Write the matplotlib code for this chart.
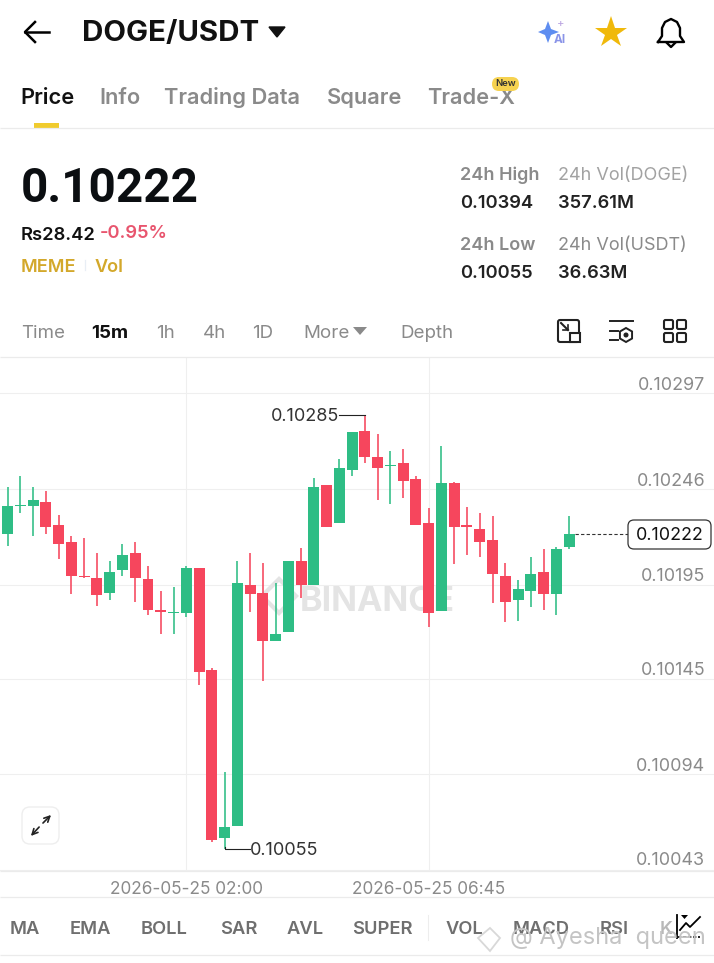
import matplotlib
matplotlib.use("Agg")
import matplotlib.pyplot as plt
from matplotlib.patches import FancyBboxPatch, Polygon, Rectangle, Circle, RegularPolygon

plt.rcParams["font.family"] = ["Inter", "DejaVu Sans"]

# candles, in 1e-6 of a USDT, index -1 is the cut off one at the left edge
opens = [102167, 102220, 102371, 102369, 102391, 102270, 102178, 101998, 101988, 101908,
         102029, 102119, 101979, 101817, 101798, 101798, 102039, 101496, 100603, 100665,
         101949, 101908, 101649, 101699, 102078, 101949, 102480, 102281, 102563, 102770,
         102630, 102581, 102600, 102511, 102277, 101809, 102490, 102268, 102249, 102188,
         101997, 101869, 101918, 102016, 101901, 102151]
highs = [102215, 102469, 102529, 102471, 102451, 102320, 102210, 102199, 102118, 102078,
         102167, 102178, 102048, 101918, 101938, 102050, 102039, 101505, 100951, 102078,
         102118, 102068, 101961, 102078, 102147, 102520, 102480, 102620, 102762, 102852,
         102751, 102662, 102671, 102529, 102357, 102691, 102499, 102366, 102331, 102318,
         102068, 101975, 102096, 102139, 102150, 102318]
lows = [102167, 102158, 102332, 102211, 102220, 102089, 101899, 101988, 101837, 101869,
        101998, 101858, 101787, 101688, 101688, 101777, 101416, 100582, 100545, 100665,
        101807, 101438, 101649, 101699, 101878, 101949, 102259, 102281, 102531, 102600,
        102401, 102382, 102410, 102271, 101727, 101809, 102061, 102110, 102099, 101851,
        101750, 101759, 101830, 101816, 101789, 102140]
closes = [102215, 102369, 102377, 102400, 102259, 102169, 101998, 101991, 101897, 102018,
          102109, 101988, 101817, 101807, 101807, 102039, 101487, 100591, 100662, 101958,
          101899, 101649, 101686, 102078, 101949, 102469, 102259, 102570, 102762, 102632,
          102572, 102589, 102503, 102271, 101800, 102490, 102259, 102259, 102179, 102009,
          101858, 101926, 102007, 101899, 102139, 102219]

price_ticks = [0.10297, 0.10246, 0.10195, 0.10145, 0.10094, 0.10043]
time_ticks = [14, 33]
time_labels = ["2026-05-25 02:00", "2026-05-25 06:45"]
last_price = 0.10222
peak_label = "0.10285"
low_label = "0.10055"

tabs = ["Price", "Info", "Trading Data", "Square", "Trade-X"]
tab_x = [20, 99, 164, 327, 427]
periods = ["Time", "15m", "1h", "4h", "1D", "More", "Depth"]
period_x = [21, 91, 156, 203, 252, 303, 400]
indicators = ["MA", "EMA", "BOLL", "SAR", "AVL", "SUPER", "VOL", "MACD", "RSI", "K"]
indicator_x = [10, 70, 141, 220, 287, 352, 446, 513, 600, 660]

GREEN = "#2EBD85"
RED = "#F6465D"
GRID = "#EFEFEF"
GRAY = "#8A8A8A"
DARK = "#1E2329"

W, H = 714, 963
fig = plt.figure(figsize=(W / 100, H / 100), dpi=100)

# chart area, y 357 to 871 in pixels of the screenshot
ax = fig.add_axes([0, 1 - 871 / H, 1, (871 - 357) / H])
ax.set_xlim(-0.6, 55.36)
ax.set_ylim(0.100426, 0.103163)
for s in ax.spines.values():
    s.set_visible(False)
ax.set_xticks([])
ax.set_yticks([])

for p in price_ticks:
    ax.axhline(p, color=GRID, lw=0.8, zorder=0)
for t in time_ticks:
    ax.axvline(t, color=GRID, lw=0.8, zorder=0)

# watermark behind the candles
ax.text(22.9, 0.10186, "BINANCE", fontsize=24.5, fontweight="bold", color="#E4E4E4",
        va="center", ha="left", zorder=1)
ax.plot([21.3], [0.10189], marker="D", ms=17, mfc="none", mec="#E4E4E4", mew=3, zorder=1)

for i in range(len(opens)):
    x = i - 1
    o, h, l, c = [v / 1e6 for v in (opens[i], highs[i], lows[i], closes[i])]
    col = GREEN if c >= o else RED
    ax.vlines(x, l, h, color=col, lw=1.15, zorder=2)
    ax.bar(x, abs(c - o), bottom=min(o, c), width=0.86, color=col, lw=0, zorder=3)

# high / low markers
peak_i, low_i = 28, 17
peak, low = highs[peak_i + 1] / 1e6, lows[low_i + 1] / 1e6
ax.plot([peak_i - 2, peak_i], [peak, peak], color="#222222", lw=0.8, zorder=4)
ax.text(peak_i - 2, peak - 0.000008, peak_label, ha="right", va="center", fontsize=13, color="#333333")
ax.plot([low_i, low_i, low_i + 2], [low + 0.00001, low, low], color="#222222", lw=0.8, zorder=4)
ax.text(low_i + 2, low - 0.000008, low_label, ha="left", va="center", fontsize=13, color="#333333")

# last price line
ax.plot([44.5, 48.6], [last_price, last_price], color="#333333", lw=0.8, ls=(0, (3, 2)), zorder=4)

# everything else is laid out in screenshot pixels
ui = fig.add_axes([0, 0, 1, 1], facecolor="none")
ui.set_xlim(0, W)
ui.set_ylim(H, 0)
ui.axis("off")


def label(x, y, s, size, color=DARK, weight="normal", ha="left", family=None):
    return ui.text(x, y + 2, s, fontsize=size, color=color, fontweight=weight, ha=ha, va="center",
                   family=family)


def hline(y, x0=0, x1=W, color="#EBEBEB", lw=0.9):
    ui.plot([x0, x1], [y, y], color=color, lw=lw, solid_capstyle="butt")


# top bar
ui.plot([25, 49], [32, 32], color="black", lw=1.8)
ui.plot([35, 25, 35], [22, 32, 42], color="black", lw=1.8)
label(82, 32, "DOGE/USDT", 21.2, "#111111", "bold")
ui.add_patch(Polygon([[269, 27], [285, 27], [277, 37]], color="#111111"))

ui.add_patch(Polygon([[538, 32], [545, 29], [548, 21], [551, 29], [559, 32], [551, 35], [548, 43], [545, 35]],
                     color="#5E8DF0", lw=0))
ui.text(560, 40, "AI", fontsize=8.5, fontweight="bold", color="#8A94E8", ha="center", va="center")
ui.text(561, 24, "+", fontsize=8, color="#B9A2E0", ha="center", va="center")
ui.plot([611], [33], marker="*", ms=24, color="#F0B90B", mew=0)
bell_x = [658, 662, 662, 665, 671, 677, 680, 680, 684, 658]
bell_y = [42, 36, 28, 22, 19, 22, 28, 36, 42, 42]
ui.plot(bell_x, bell_y, color="black", lw=1.7)
ui.plot([667, 671, 675], [43, 47, 43], color="black", lw=1.7)

# tabs
for k, (t, x) in enumerate(zip(tabs, tab_x)):
    label(x, 96, t, 15.7, "#111111" if k == 0 else GRAY, "semibold")
ui.add_patch(Rectangle((34, 123), 25, 5, color="#F0CB2E", lw=0))
ui.add_patch(FancyBboxPatch((492, 77), 27, 14, boxstyle="round,pad=0,rounding_size=7",
                            color="#F6D250", lw=0, zorder=5))
ui.text(505.5, 84, "New", fontsize=6.8, color="#333333", fontweight="semibold", ha="center", va="center", zorder=6)
hline(128)

# header figures
label(21, 187, "0.10222", 34.3, "#0B0E11", "bold", family="Roboto")
label(21, 233, "Rs28.42", 13.2, "#111111", "semibold")
label(100, 232, "-0.95%", 13.2, "#E8556E", "semibold")
label(21, 265, "MEME", 13, "#D3A82B", "semibold")
ui.plot([85, 85], [260, 270], color="#E8EEF5", lw=0.9)
label(95, 265, "Vol", 13, "#D3A82B", "semibold")

label(460, 173, "24h High", 13, GRAY, "semibold")
label(460, 201, "0.10394", 13.2, "#222222", "semibold")
label(558, 173, "24h Vol(DOGE)", 13, "#A2A2A2")
label(558, 201, "357.61M", 13.2, "#222222", "semibold")
label(460, 243, "24h Low", 13, GRAY, "semibold")
label(460, 271, "0.10055", 13.2, "#222222", "semibold")
label(558, 243, "24h Vol(USDT)", 13, GRAY)
label(558, 271, "36.63M", 13.2, "#222222", "semibold")

# period row
for p, x in zip(periods, period_x):
    if p == "15m":
        label(x, 331, p, 13.5, "#111111", "bold")
    else:
        label(x, 331, p, 13.5, GRAY)
ui.add_patch(Polygon([[353, 327], [367, 327], [360, 335]], color=GRAY, lw=0))

# chart tool icons
ui.add_patch(FancyBboxPatch((558, 320), 21, 22, boxstyle="round,pad=0,rounding_size=2", fill=False, ec="#222222", lw=1.5))
ui.add_patch(Rectangle((570, 333), 10, 9, fc="white", ec="#222222", lw=1.5))
ui.plot([561, 568], [323, 330], color="#222222", lw=1.5)
ui.plot([563, 568, 568], [330, 330, 325], color="#222222", lw=1.2)
ui.plot([610, 633], [321, 321], color="#222222", lw=1.4)
ui.plot([610, 618], [331, 331], color="#222222", lw=1.4)
ui.plot([610, 618], [340, 340], color="#222222", lw=1.4)
ui.add_patch(RegularPolygon((626, 335), 6, radius=7, fill=False, ec="#222222", lw=1.4))
ui.add_patch(Circle((626, 335), 1.8, color="#222222"))
for bx in (664, 677):
    for by in (320, 333):
        ui.add_patch(FancyBboxPatch((bx, by), 9, 9, boxstyle="round,pad=0,rounding_size=1.5",
                                    fill=False, ec="#222222", lw=1.5))
hline(357)

# price labels
for p in price_ticks:
    y = 489 - (p - 0.10246) / 5.325e-6
    label(705, y - 10 if p > 0.1005 else y - 12, f"{p:.5f}", 12.9, GRAY, ha="right")
ui.add_patch(FancyBboxPatch((628, 520), 83, 29, boxstyle="round,pad=0,rounding_size=6",
                            fc="white", ec="#333333", lw=0.9, zorder=5))
ui.text(670, 536, f"{last_price:.5f}", fontsize=12.9, color="#111111", ha="center", va="center", zorder=6)

# expand button
ui.add_patch(FancyBboxPatch((22, 807), 37, 37, boxstyle="round,pad=0,rounding_size=8",
                            fc="white", ec="#EEEEEE", lw=1))
ui.annotate("", xy=(53, 813), xytext=(41, 825), arrowprops=dict(arrowstyle="->", color="#222222", lw=1.2))
ui.annotate("", xy=(29, 838), xytext=(41, 825), arrowprops=dict(arrowstyle="->", color="#222222", lw=1.2))

# time axis
hline(871)
for t, s in zip(time_ticks, time_labels):
    px = 186.3 + 12.76 * (t - 14)
    label(px, 887, s, 12.4, GRAY, ha="center")
hline(897)

# indicator row
for s, x in zip(indicators, indicator_x):
    label(x, 927, s, 13.2, "#B8B8B8" if s == "K" else "#6F6F6F", "semibold")
ui.plot([428, 428], [915, 940], color="#EDEDED", lw=0.8)
ui.plot([677, 677], [915, 938], color="black", lw=1.3)
ui.plot([680, 686, 690, 700], [930, 923, 927, 917], color="black", lw=1.3)
ui.plot([678, 700], [937, 937], color="black", lw=1.2, ls=(0, (2, 1)))
ui.add_patch(Polygon([[681, 915], [688, 915], [684.5, 919]], color="black", lw=0))
hline(955)

# repost watermark
ui.add_patch(Polygon([[490, 928], [500, 938], [490, 951], [478, 938]], fill=False, ec="#D8D8D8", lw=1.3, zorder=7))
ui.text(510, 938, "@ Ayesha  queen", fontsize=17, color="#C4C4C4", ha="left", va="center", zorder=7)

fig.savefig("out.png", dpi=100)
